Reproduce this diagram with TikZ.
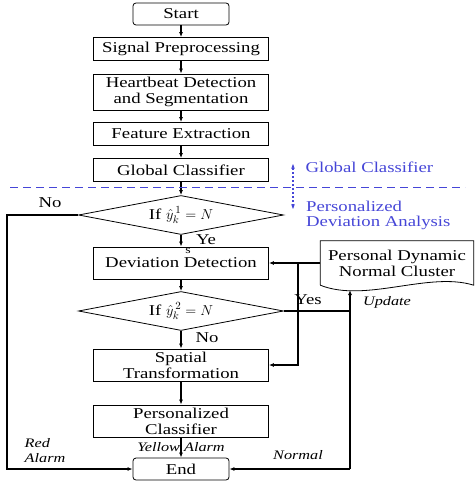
\documentclass[tikz,border=0pt]{standalone}
\usepackage{fontspec}
\setmainfont[FakeStretch=1.25]{Liberation Serif}
\usetikzlibrary{arrows.meta,shapes.geometric}
\definecolor{stageblue}{RGB}{70,70,215}

\begin{document}
\begin{tikzpicture}[x=1pt, y=-1pt,
    every node/.style={font=\fontsize{15}{16}\selectfont},
    proc/.style={draw, line width=0.8pt, minimum width=175pt, minimum height=23pt, inner sep=1pt, align=center},
    term/.style={draw, line width=0.8pt, rounded corners=3pt, minimum width=96pt, minimum height=22pt, inner sep=1pt},
    decide/.style={draw, line width=0.8pt, diamond, aspect=5.2, minimum width=205pt, minimum height=39pt, inner sep=0pt},
    flow/.style={line width=1.1pt, -{Latex[length=5pt,width=4pt]}},
    wire/.style={line width=1.1pt},
    note/.style={font=\fontsize{13}{15}\selectfont\itshape, align=left},
    bluenote/.style={font=\fontsize{15}{15}\selectfont, text=stageblue, align=left}]
    \useasboundingbox (0,0) rectangle (474,484);

    % Main flow
    \node[term] (start) at (181,14) {Start};
    \node[proc] (sig) at (181,49) {Signal Preprocessing};
    \node[proc, minimum height=36pt] (hb) at (181,92) {Heartbeat Detection\\and Segmentation};
    \node[proc] (feat) at (181,134) {Feature Extraction};
    \node[proc] (glob) at (181,170) {Global Classifier};
    \node[decide] (d1) at (181,215) {If $\hat{y}_k^{\,1} = N$};
    \node[proc, minimum height=32pt] (dev) at (181,263) {Deviation Detection};
    \node[decide] (d2) at (181,311) {If $\hat{y}_k^{\,2} = N$};
    \node[proc, minimum height=32pt] (spat) at (181,365) {Spatial\\Transformation};
    \node[proc, minimum height=32pt] (pers) at (181,421) {Personalized\\Classifier};
    \node[term] (end) at (181,469) {End};

    \draw[flow] (start) -- (sig);
    \draw[flow] (sig) -- (hb);
    \draw[flow] (hb) -- (feat);
    \draw[flow] (feat) -- (glob);
    \draw[flow] (glob) -- (d1);
    \draw[flow] (d1) -- (dev);
    \draw[flow] (dev) -- (d2);
    \draw[flow] (d2) -- (spat);
    \draw[flow] (spat) -- (pers);
    \draw[flow] (pers) -- (end);

    % Personal cluster (document shape)
    \node[minimum width=153pt, minimum height=44pt, align=center, inner sep=1pt] (pdnc) at (397,263) {Personal Dynamic\\Normal Cluster};
    \draw[line width=0.8pt] (pdnc.south west) -- (pdnc.north west) -- (pdnc.north east) -- (pdnc.south east)
        .. controls +(-45,-14) and +(45,18) .. (pdnc.south west);

    % Side paths
    \coordinate (j1) at (298,263);
    \coordinate (rl) at (7,469);
    \coordinate (nr) at (350,469);
    \coordinate (upd) at (350,290);
    \draw[flow] (pdnc.west) -- (dev.east);
    \draw[flow] (j1) |- (spat.east);
    \draw[flow] (d1.west) -| (rl) -- (end.west);
    \draw[wire] (d2.east) -- (d2.east -| nr);
    \draw[flow] (nr) -- (upd);
    \draw[flow] (nr) -- (end.east);

    % Branch labels
    \node (no1) at (50,203) {No};
    \node (ye) at (206,240) {Ye};
    \node[font=\fontsize{11}{12}\selectfont] (s) at (188,251) {s};
    \node (no2) at (207,338) {No};
    \node (yes) at (308,300) {Yes};
    \node[note] (update) at (387,302) {Update};
    \node[note] (red) at (45,451) {Red\\Alarm};
    \node[note] (yellow) at (181,447) {Yellow Alarm};
    \node[note] (normal) at (298,455) {Normal};

    % Stage split
    \draw[dashed, dash pattern=on 8pt off 5pt, line width=1pt, stageblue] (10,187) -- (465,187);
    \coordinate (gtop) at (293,164);
    \coordinate (gbot) at (293,209);
    \draw[dotted, line width=2pt, stageblue, {Stealth[length=5pt]}-{Stealth[length=5pt]}] (gbot) -- (gtop);
    \node[bluenote, anchor=west] (gl) at (302,167) {Global Classifier};
    \node[bluenote, anchor=north west, inner sep=0pt] (pda) at (306,201) {Personalized\\Deviation Analysis};
\end{tikzpicture}
\end{document}
